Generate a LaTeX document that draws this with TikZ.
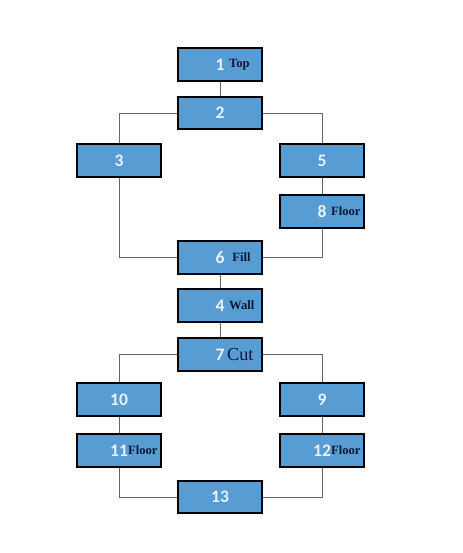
\documentclass[tikz,border=0pt]{standalone}
\usepackage{fontspec}
\usepackage{tikz}
\usetikzlibrary{calc}
\newfontfamily\numfont{Carlito}
\newfontfamily\lblfont{Liberation Serif}
\definecolor{boxblue}{RGB}{88,156,212}
\definecolor{numwhite}{RGB}{232,242,252}
\definecolor{lblnavy}{RGB}{12,24,56}

\begin{document}
\begin{tikzpicture}[
  blk/.style={draw=black, fill=boxblue, line width=1.3pt,
    minimum width=2.1cm, minimum height=0.82cm, inner sep=0pt,
    font=\numfont\bfseries\fontsize{12.5}{13}\selectfont, text=numwhite},
  lbl/.style={anchor=west, inner sep=0pt, text=lblnavy,
    font=\lblfont\fontsize{9}{10}\selectfont\bfseries},
  conn/.style={draw=black!60, line width=0.5pt}
]
\useasboundingbox (0,0) rectangle (11.575,13.825);
% Upper loop
\node[blk] (n1) at (5.5,12.21) {1};
\node[blk] (n2) at (5.5,11.0) {2};
\node[blk] (n3) at (2.975,9.81) {3};
\node[blk] (n5) at (8.05,9.81) {5};
\node[blk] (n8) at (8.05,8.54) {8};
\node[blk] (n6) at (5.5,7.39) {6};
% Middle
\node[blk] (n4) at (5.5,6.19) {4};
\node[blk] (n7) at (5.5,4.96) {7};
% Lower loop
\node[blk] (n10) at (2.975,3.84) {10};
\node[blk] (n9) at (8.05,3.84) {9};
\node[blk] (n11) at (2.975,2.56) {11};
\node[blk] (n12) at (8.05,2.56) {12};
\node[blk] (n13) at (5.5,1.4) {13};
% Labels
\node[lbl] (t1) at ($(n1.center)+(0.22,0)$) {Top};
\node[lbl] (t8) at ($(n8.center)+(0.22,0)$) {Floor};
\node[lbl] (t6) at ($(n6.center)+(0.3,0)$) {Fill};
\node[lbl] (t4) at ($(n4.center)+(0.22,0)$) {Wall};
\node[lbl, font=\lblfont\fontsize{13}{14}\selectfont] (t7) at ($(n7.center)+(0.17,0)$) {Cut};
\node[lbl] (t11) at ($(n11.center)+(0.22,0)$) {Floor};
\node[lbl] (t12) at ($(n12.center)+(0.22,0)$) {Floor};
% Connectors
\draw[conn] (n1) -- (n2);
\draw[conn] (n2.west) -| (n3.north);
\draw[conn] (n2.east) -| (n5.north);
\draw[conn] (n5) -- (n8);
\draw[conn] (n3.south) |- (n6.west);
\draw[conn] (n8.south) |- (n6.east);
\draw[conn] (n6) -- (n4);
\draw[conn] (n4) -- (n7);
\draw[conn] (n7.west) -| (n10.north);
\draw[conn] (n7.east) -| (n9.north);
\draw[conn] (n10) -- (n11);
\draw[conn] (n9) -- (n12);
\draw[conn] (n11.south) |- (n13.west);
\draw[conn] (n12.south) |- (n13.east);
\end{tikzpicture}
\end{document}
